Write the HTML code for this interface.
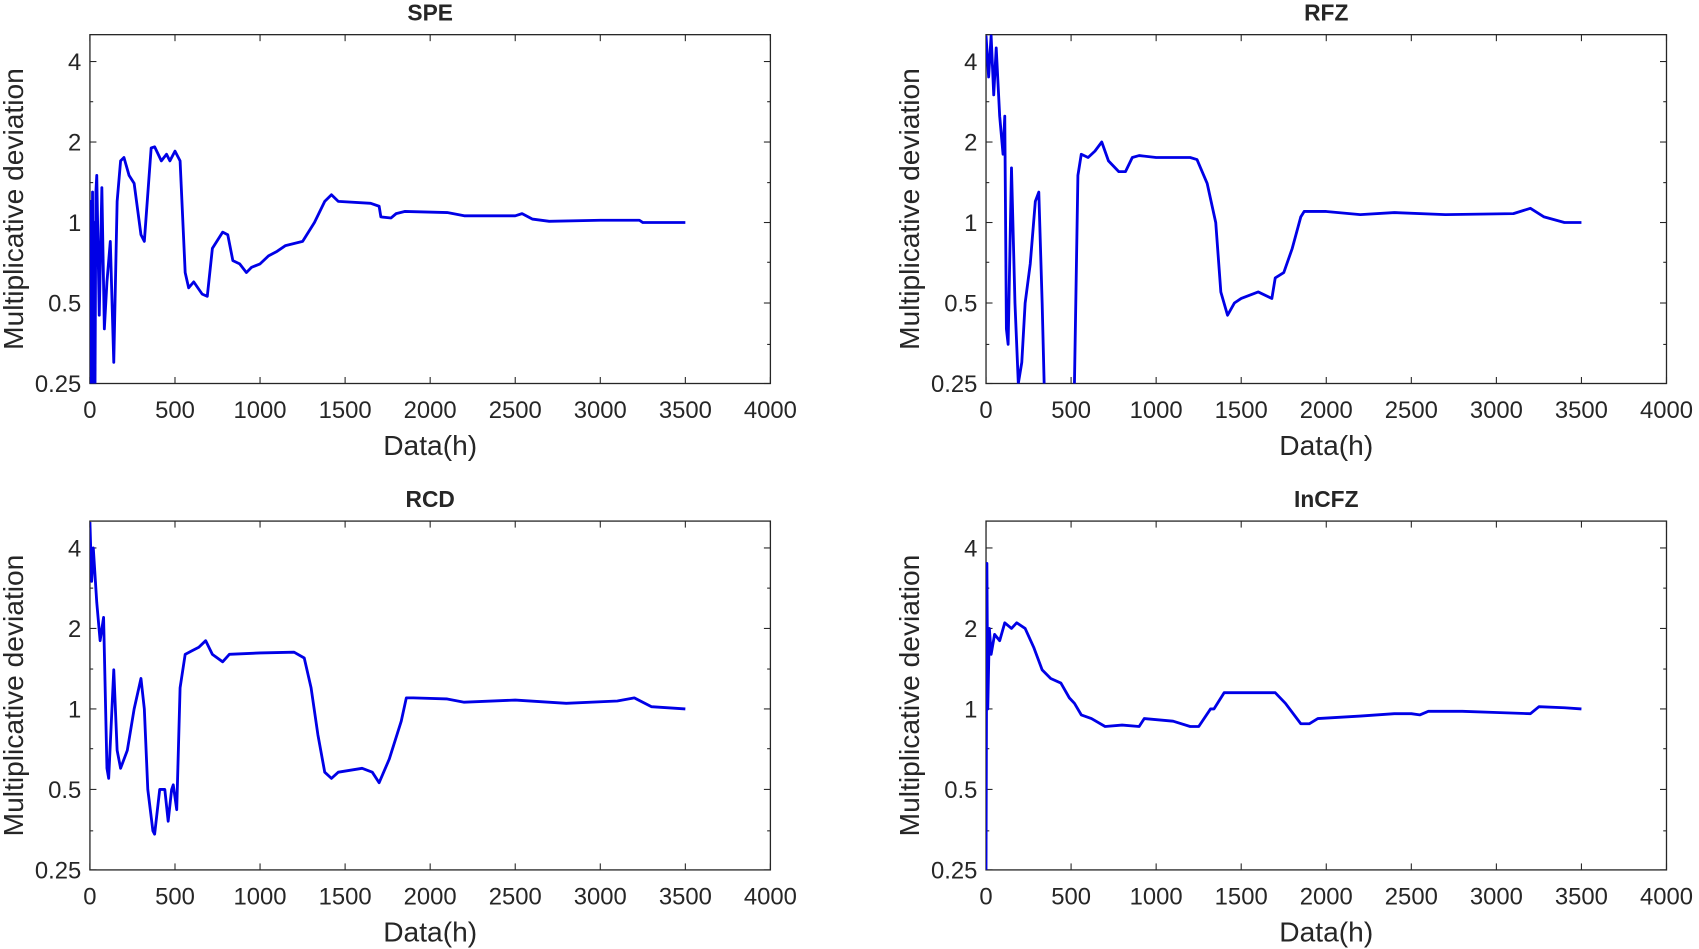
<!DOCTYPE html>
<html><head><meta charset="utf-8"><style>
html,body{margin:0;padding:0;background:#fff;}
svg{display:block;}
text{font-family:"Liberation Sans",Arial,sans-serif;fill:#262626;}
</style></head><body>
<svg id="s" width="1699" height="949" viewBox="0 0 1568 876" preserveAspectRatio="none" xmlns="http://www.w3.org/2000/svg"></svg>
<script>
const S=document.getElementById('s');
const NS='http://www.w3.org/2000/svg';
function el(t,a,txt,p){const e=document.createElementNS(NS,t);for(const k in a)e.setAttribute(k,a[k]);if(txt!==undefined)e.textContent=txt;(p||S).appendChild(e);return e;}
const data={
SPE:[[0,0.25],[5,1.2],[10,0.25],[15,1.3],[20,0.25],[25,1.0],[30,0.25],[35,1.3],[40,1.5],[55,0.45],[70,1.35],[85,0.4],[100,0.6],[120,0.85],[140,0.3],[160,1.2],[180,1.7],[200,1.75],[230,1.5],[260,1.4],[300,0.9],[320,0.85],[360,1.9],[380,1.92],[420,1.7],[450,1.8],[470,1.7],[500,1.85],[530,1.7],[560,0.65],[580,0.57],[610,0.6],[660,0.54],[690,0.53],[720,0.8],[780,0.92],[810,0.9],[840,0.72],[880,0.7],[920,0.65],[950,0.68],[1000,0.7],[1050,0.75],[1100,0.78],[1150,0.82],[1250,0.85],[1320,1.0],[1380,1.2],[1420,1.27],[1460,1.2],[1650,1.18],[1700,1.15],[1710,1.05],[1770,1.04],[1800,1.08],[1850,1.1],[2100,1.09],[2200,1.06],[2500,1.06],[2540,1.08],[2600,1.03],[2700,1.01],[3000,1.02],[3230,1.02],[3250,1.0],[3500,1.0]],
RFZ:[[0,5],[15,3.5],[30,5],[45,3],[60,4.5],[80,2.5],[100,1.8],[110,2.5],[120,0.4],[130,0.35],[150,1.6],[170,0.5],[190,0.25],[210,0.3],[230,0.5],[260,0.7],[290,1.2],[310,1.3],[330,0.5],[350,0.15],[510,0.15],[520,0.25],[540,1.5],[560,1.8],[600,1.75],[640,1.85],[680,2.0],[720,1.7],[780,1.55],[820,1.55],[860,1.75],[900,1.78],[1000,1.75],[1200,1.75],[1240,1.72],[1300,1.4],[1350,1.0],[1380,0.55],[1420,0.45],[1460,0.5],[1500,0.52],[1600,0.55],[1680,0.52],[1700,0.62],[1750,0.65],[1800,0.8],[1850,1.05],[1870,1.1],[2000,1.1],[2200,1.07],[2400,1.09],[2700,1.07],[3100,1.08],[3200,1.13],[3280,1.05],[3400,1.0],[3500,1.0]],
RCD:[[0,5],[10,3],[20,4],[40,2.5],[60,1.8],[80,2.2],[100,0.6],[110,0.55],[140,1.4],[160,0.7],[180,0.6],[220,0.7],[260,1.0],[300,1.3],[320,1.0],[340,0.5],[370,0.35],[380,0.34],[410,0.5],[440,0.5],[460,0.38],[480,0.5],[490,0.52],[510,0.42],[530,1.2],[560,1.6],[600,1.65],[640,1.7],[680,1.8],[720,1.6],[780,1.5],[820,1.6],[1000,1.62],[1200,1.63],[1260,1.55],[1300,1.2],[1340,0.8],[1380,0.58],[1420,0.55],[1460,0.58],[1600,0.6],[1660,0.58],[1700,0.53],[1760,0.65],[1830,0.9],[1860,1.1],[1900,1.1],[2100,1.09],[2200,1.06],[2500,1.08],[2800,1.05],[3100,1.07],[3200,1.1],[3300,1.02],[3500,1.0]],
InCFZ:[[0,0.25],[5,3.5],[10,1.0],[20,2.0],[30,1.6],[50,1.9],[80,1.8],[110,2.1],[150,2.0],[180,2.1],[230,2.0],[280,1.7],[330,1.4],[380,1.3],[440,1.25],[490,1.1],[520,1.05],[560,0.95],[620,0.92],[700,0.86],[800,0.87],[900,0.86],[930,0.92],[1100,0.9],[1200,0.86],[1250,0.86],[1320,1.0],[1340,1.0],[1400,1.15],[1500,1.15],[1700,1.15],[1760,1.05],[1850,0.88],[1900,0.88],[1950,0.92],[2200,0.94],[2400,0.96],[2500,0.96],[2550,0.95],[2600,0.98],[2800,0.98],[3000,0.97],[3200,0.96],[3250,1.02],[3400,1.01],[3500,1.0]]};
const panels=[["SPE",83,32],["RFZ",910,32],["RCD",83,481],["InCFZ",910,481]];
panels.forEach(([name,L,T],i)=>{
 const W=628,H=322,B=T+H,oct=74.3;
 const X=v=>L+v/4000*W, Y=v=>B-(Math.log2(v)+2)*oct;
 const cp=el('clipPath',{id:'c'+i});
 el('rect',{x:L,y:T,width:W,height:H},undefined,cp);
 el('rect',{x:L,y:T,width:W,height:H,fill:'#fff',stroke:'#262626','stroke-width':1.2});
 for(let k=0;k<=8;k++){const x=X(k*500);el('line',{x1:x,y1:B,x2:x,y2:B-6,stroke:'#262626'});el('line',{x1:x,y1:T,x2:x,y2:T+6,stroke:'#262626'});
  el('text',{x:x,y:B+32,'font-size':22,'text-anchor':'middle'},String(k*500));}
 [[0.25,'0.25'],[0.5,'0.5'],[1,'1'],[2,'2'],[4,'4']].forEach(([v,s])=>{const y=Y(v);
  el('line',{x1:L,y1:y,x2:L+6,y2:y,stroke:'#262626'});el('line',{x1:L+W,y1:y,x2:L+W-6,y2:y,stroke:'#262626'});
  el('text',{x:L-8,y:y+8,'font-size':22,'text-anchor':'end'},s);});
 [0.35,0.71,1.41,2.83].forEach(v=>{const y=Y(v);el('line',{x1:L,y1:y,x2:L+3,y2:y,stroke:'#262626'});el('line',{x1:L+W,y1:y,x2:L+W-3,y2:y,stroke:'#262626'});});
 el('text',{x:L+W/2,y:T-13,'font-size':21,'font-weight':'bold','text-anchor':'middle',fill:'#000'},name);
 el('text',{x:L+W/2,y:B+66,'font-size':26,'text-anchor':'middle'},'Data(h)');
 el('text',{x:0,y:0,'font-size':26,'text-anchor':'middle',transform:`translate(${L-62},${T+H/2}) rotate(-90)`},'Multiplicative deviation');
 const d=data[name].map((p,j)=>(j?'L':'M')+X(p[0]).toFixed(1)+' '+Y(p[1]).toFixed(1)).join(' ');
 el('path',{d:d,fill:'none',stroke:'#0000e6','stroke-width':2.6,'stroke-linejoin':'round','clip-path':`url(#c${i})`});
});
</script>
</body></html>
